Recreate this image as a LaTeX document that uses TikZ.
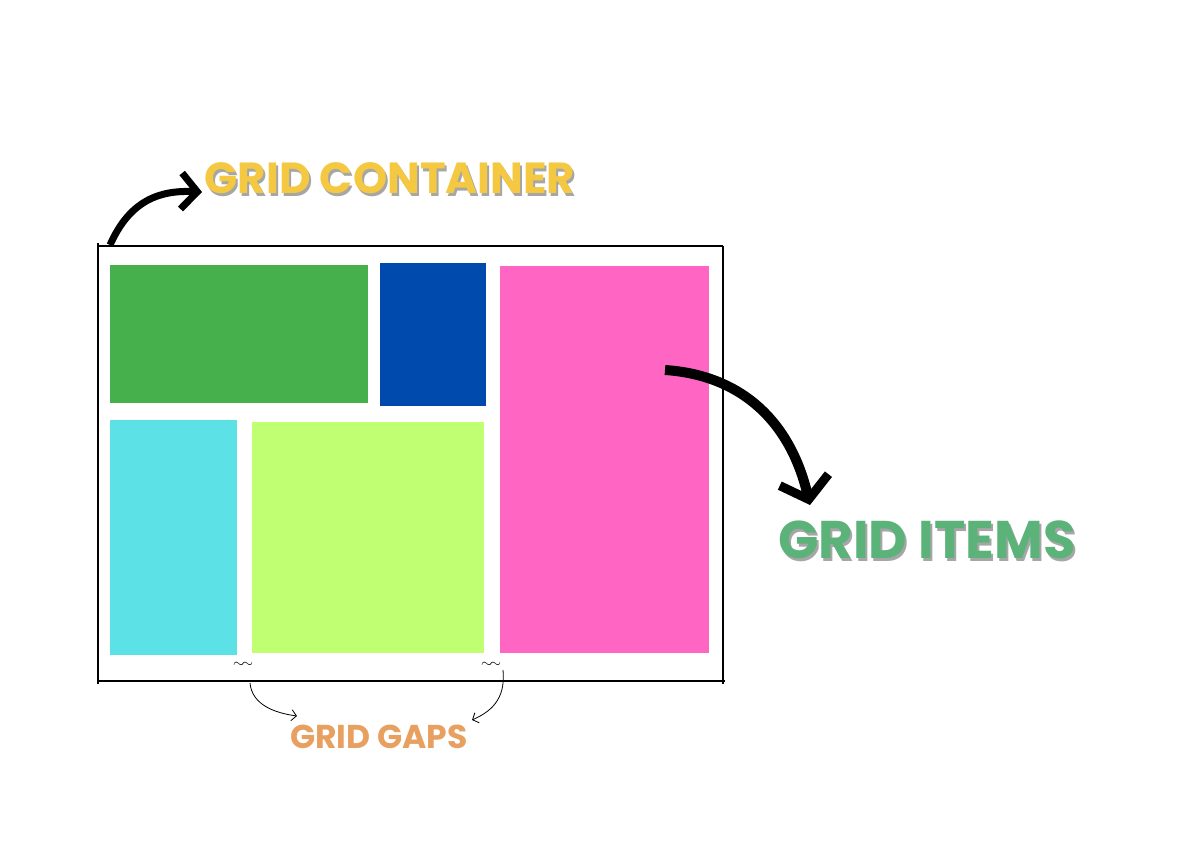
\documentclass[tikz,border=0pt]{standalone}
\usepackage{fontspec}
\setmainfont{Poppins}
\usetikzlibrary{arrows.meta}
\definecolor{cgreen}{HTML}{46B04C}
\definecolor{cblue}{HTML}{004AAD}
\definecolor{cpink}{HTML}{FF66C4}
\definecolor{ccyan}{HTML}{5CE1E6}
\definecolor{clime}{HTML}{C1FF72}
\definecolor{cyel}{HTML}{F5C842}
\definecolor{citem}{HTML}{5BB37A}
\definecolor{cgap}{HTML}{E8A060}
\tikzset{
 bigarrow/.style={line width=7pt,-{Straight Barb[length=16pt,width=36pt,line width=7pt]}},
 hugearrow/.style={line width=10pt,-{Straight Barb[length=20pt,width=50pt,line width=9pt]}},
 thinarrow/.style={line width=0.8pt,-{Straight Barb[length=5pt,width=11pt]}},
 shadow/.style={text=gray!70}}
\begin{document}
\begin{tikzpicture}[x=1pt,y=-1pt]
\useasboundingbox[fill=white] (0,0) rectangle (1200,851);
\fill[cgreen] (110,265) rectangle (368,403);
\fill[cblue] (380,263) rectangle (486,406);
\fill[cpink] (500,266) rectangle (709,653);
\fill[ccyan] (110,420) rectangle (237,655);
\fill[clime] (252,422) rectangle (484,653);
\draw[line width=1.6pt] (98,243) -- (98,684);
\draw[line width=1.6pt] (98,246) -- (723,246);
\draw[line width=1.6pt] (723,246) -- (723,684);
\draw[line width=1.6pt] (98,681) -- (725,681);
% labels
\node[shadow,font=\bfseries\fontsize{43.5}{44}\selectfont] at (392,181) {GRID CONTAINER};
\node[text=cyel,font=\bfseries\fontsize{43.5}{44}\selectfont] (gc) at (390,178) {GRID CONTAINER};
\node[shadow,font=\bfseries\fontsize{53}{54}\selectfont] at (929,543) {GRID ITEMS};
\node[text=citem,font=\bfseries\fontsize{53}{54}\selectfont] (gi) at (927,540) {GRID ITEMS};
\node[text=cgap,font=\bfseries\fontsize{33}{34}\selectfont] (gg) at (379,737) {GRID GAPS};
% arrows
\coordinate (c0) at (110,245);
\coordinate (c1) at (202,192);
\draw[bigarrow] (c0) .. controls (130,200) and (160,190) .. (c1);
\coordinate (i0) at (665,370);
\coordinate (i1) at (810,505);
\draw[hugearrow] (i0) .. controls (740,375) and (790,420) .. (i1);
% gap braces
\node[font=\fontsize{14}{14}\selectfont] (b1) at (243,665) {$\sim\!\sim$};
\node[font=\fontsize{14}{14}\selectfont] (b2) at (491,665) {$\sim\!\sim$};
\draw[thinarrow] (250,683) .. controls (252,705) and (275,713) .. (297,716);
\draw[thinarrow] (503,670) .. controls (506,700) and (490,712) .. (472,720);
\end{tikzpicture}
\end{document}
